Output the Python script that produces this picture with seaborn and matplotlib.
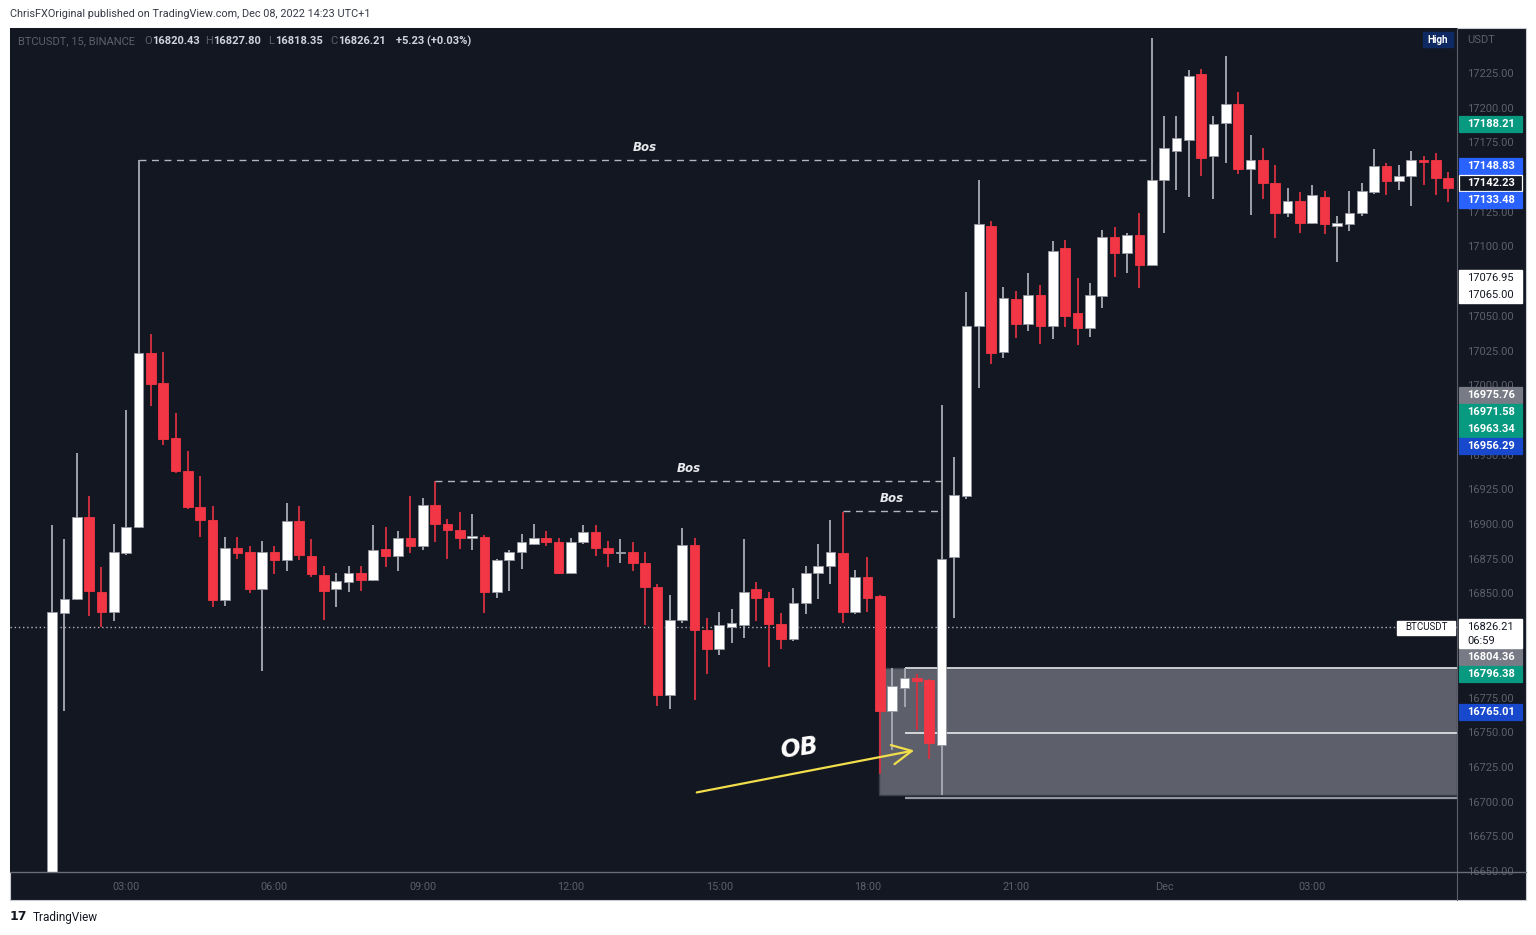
import numpy as np
import pandas as pd
import matplotlib
matplotlib.use("Agg")
import matplotlib.pyplot as plt
import matplotlib.transforms as mtransforms
from matplotlib.patches import Rectangle
from matplotlib.lines import Line2D
import seaborn as sns

# ---------------- data ----------------
opens = [16620, 16836, 16846, 16905, 16851, 16837, 16879, 16898, 17023, 17002,
         16962, 16938, 16912, 16903, 16845, 16883, 16880, 16853, 16880, 16874,
         16902, 16877, 16863, 16853, 16858, 16865, 16860, 16882, 16877, 16890,
         16884, 16914, 16900, 16896, 16890, 16891, 16851, 16874, 16880, 16886,
         16890, 16887, 16865, 16887, 16894, 16883, 16879, 16880, 16872, 16855,
         16777, 16831, 16885, 16824, 16810, 16826, 16827, 16853, 16847, 16828,
         16817, 16843, 16865, 16870, 16879, 16837, 16862, 16848, 16765, 16782,
         16789, 16788, 16741, 16876, 16920, 17043, 17115, 17024, 17062, 17044,
         17065, 17043, 17099, 17052, 17041, 17064, 17107, 17095, 17108, 17087,
         17148, 17169, 17177, 17224, 17165, 17189, 17203, 17156, 17162, 17146,
         17124, 17133, 17117, 17136, 17115, 17116, 17124, 17139, 17158, 17147,
         17151, 17162, 17162, 17149]
highs = [16899, 16889, 16951, 16920, 16869, 16900, 16982, 17162, 17037, 17024,
         16980, 16953, 16935, 16913, 16891, 16891, 16884, 16888, 16884, 16915,
         16913, 16889, 16870, 16865, 16870, 16870, 16899, 16898, 16895, 16920,
         16919, 16931, 16904, 16909, 16907, 16892, 16875, 16881, 16893, 16900,
         16895, 16890, 16890, 16899, 16899, 16888, 16889, 16887, 16880, 16857,
         16849, 16897, 16890, 16832, 16837, 16839, 16889, 16858, 16851, 16836,
         16854, 16870, 16886, 16903, 16909, 16867, 16876, 16849, 16796, 16796.38,
         16792, 16788.5, 16986, 16948, 17067, 17148, 17118, 17071, 17068, 17081,
         17072, 17104, 17105, 17077, 17074, 17112, 17114, 17110, 17124, 17250,
         17194, 17194, 17227, 17228, 17194, 17237, 17211, 17180, 17171, 17159,
         17142, 17139, 17144, 17140, 17122, 17140, 17146, 17170, 17160, 17159,
         17169, 17165, 17167, 17154]
lows = [16610, 16765, 16845, 16834, 16826, 16830, 16878, 16897, 16985, 16957,
        16937, 16911, 16891, 16840, 16841, 16875, 16850, 16794, 16864, 16866,
        16874, 16862, 16831, 16840, 16851, 16852, 16859, 16869, 16866, 16879,
        16881, 16887, 16875, 16882, 16881, 16836, 16847, 16852, 16868, 16885,
        16884, 16864, 16864, 16886, 16877, 16869, 16872, 16866, 16827, 16769,
        16767, 16829, 16773, 16792, 16806, 16814, 16818, 16830, 16797, 16810,
        16816, 16835, 16846, 16857, 16829, 16835, 16837, 16720, 16737, 16768,
        16752, 16731, 16705, 16832, 16918, 16998, 17015, 17020, 17034, 17039,
        17030, 17033, 17042, 17029, 17035, 17056, 17078, 17081, 17070, 17086,
        17110, 17141, 17136, 17151, 17134, 17160, 17152, 17123, 17134, 17106,
        17121, 17110, 17116, 17109, 17089, 17111, 17122, 17138, 17137, 17141,
        17129, 17144, 17137, 17132]
closes = [16837, 16846, 16905, 16852, 16837, 16880, 16898, 17023, 17001, 16961,
          16938, 16912, 16903, 16845, 16883, 16879, 16853, 16880, 16874, 16902,
          16878, 16864, 16852, 16859, 16865, 16860, 16881, 16877, 16890, 16884,
          16914, 16900, 16896, 16890, 16891, 16851, 16874, 16880, 16887, 16890,
          16887, 16865, 16887, 16894, 16883, 16879, 16880, 16872, 16855, 16777,
          16831, 16885, 16824, 16810, 16827, 16829, 16851, 16847, 16828, 16817,
          16843, 16865, 16870, 16880, 16837, 16862, 16847, 16765, 16783, 16789,
          16787, 16742, 16875, 16921, 17043, 17116, 17023, 17063, 17044, 17065,
          17043, 17097, 17050, 17041, 17065, 17107, 17095, 17108, 17087, 17148,
          17171, 17178, 17223, 17164, 17188, 17203, 17156, 17162, 17146, 17124,
          17133, 17117, 17137, 17116, 17117, 17124, 17140, 17158, 17147, 17151,
          17162, 17161, 17149, 17142.23]

time_tick_index = [6, 18, 30, 42, 54, 66, 78, 90, 102]
time_tick_labels = ["03:00", "06:00", "09:00", "12:00", "15:00", "18:00", "21:00", "Dec", "03:00"]
price_ticks = [16650, 16675, 16700, 16725, 16750, 16775, 16800, 16825, 16850, 16875,
               16900, 16925, 16950, 16975, 17000, 17025, 17050, 17075, 17100, 17125,
               17150, 17175, 17200, 17225]
hidden_ticks = [16800, 16825, 17075, 17150]   # fully covered by price tags

# break-of-structure levels: (start candle, end candle, level)
bos_start = [7, 31, 64]
bos_end = [89, 72, 72]
bos_level = [17162, 16931, 16909.4]

ob_start = 66.95
ob_top = 16796.38
ob_bottom = 16703.0
last_price = 16826.21

# right-axis tags: text, displayed price, background
tag_text = ["17188.21", "17148.83", "17142.23", "17133.48", "16975.76", "16971.58",
            "16963.34", "16956.29", "16804.36", "16796.38", "16765.01"]
tag_pos = [17188.3, 17158.0, 17145.8, 17133.5, 16993.0, 16980.8,
           16968.5, 16956.3, 16804.3, 16792.0, 16764.6]
tag_bg = ["#089981", "#2962ff", "#131722", "#2962ff", "#787b86", "#089981",
          "#089981", "#1848cc", "#787b86", "#089981", "#1848cc"]

df = pd.DataFrame({"open": opens, "high": highs, "low": lows, "close": closes})
df["idx"] = np.arange(len(df))
df["up"] = df["close"] >= df["open"]

# ---------------- style ----------------
BG = "#131722"
sns.set_theme(style="dark", rc={"axes.facecolor": BG, "figure.facecolor": "white"})
plt.rcParams["font.family"] = ["Roboto", "DejaVu Sans"]

W, H = 1536, 935
fig = plt.figure(figsize=(W / 100, H / 100), dpi=100, facecolor="white")


def fx(px):
    return px / W


def fy(py):
    return 1 - py / H


# dark chart panel (behind everything)
fig.patches.append(Rectangle((fx(10), fy(900)), fx(1526) - fx(10), fy(28) - fy(900),
                             transform=fig.transFigure, facecolor=BG,
                             edgecolor="#c8cbd2", lw=0.8, zorder=-5))

ax = fig.add_axes([fx(10), fy(872), fx(1457) - fx(10), fy(28) - fy(872)])
ax.set_zorder(1)
ax.set_facecolor(BG)
ax.grid(False)
for s in ax.spines.values():
    s.set_visible(False)

xmin, xmax = -3.40, 113.71
ax.set_xlim(xmin, xmax)
ax.set_ylim(16649.35, 17257.4)

# separators
fig.add_artist(Line2D([fx(1457), fx(1457)], [fy(28), fy(900)], color="#5d606b", lw=0.8, zorder=2))
fig.add_artist(Line2D([fx(10), fx(1526)], [fy(872), fy(872)], color="#6a6d78", lw=1.0, zorder=2))

# ---------------- OB zone ----------------
ax.add_patch(Rectangle((ob_start, ob_bottom + 1.5), xmax - ob_start, ob_top - ob_bottom - 1.5,
                       facecolor="#5d606b", edgecolor="#3b3f4b", lw=1.0, zorder=1))
ax.hlines([ob_top, (ob_top + ob_bottom) / 2], 69, xmax, color="#e8e9ec", lw=1.2, zorder=1.2)
ax.hlines([ob_bottom], 69, xmax, color="#9598a1", lw=1.6, zorder=1.2)

# last price dotted line
ax.axhline(last_price, color="#b2b5be", lw=1.0, linestyle=(0, (1, 2)), zorder=1.5)

# ---------------- candles ----------------
up_col, dn_col = "#ffffff", "#f23645"
for _, r in df.iterrows():
    wick_col = "#a9acb5" if r["up"] else "#d9303f"
    ax.vlines(r["idx"], r["low"], r["high"], color=wick_col, lw=1.3, zorder=2)
    lo = min(r["open"], r["close"])
    h = max(abs(r["close"] - r["open"]), 1.2)
    ax.bar(r["idx"], h, bottom=lo, width=0.78,
           color=up_col if r["up"] else dn_col,
           edgecolor="#9598a1" if r["up"] else dn_col, lw=0.6, zorder=3)

# ---------------- BOS lines ----------------
for s, e, lv in zip(bos_start, bos_end, bos_level):
    ax.hlines(lv, s, e, color="#b2b5be", lw=1.0, linestyles=(0, (5, 4)), zorder=2.5)
    ax.text((s + e) / 2, lv + 4.5, "Bos", color="#e8e9ec", fontsize=8.5,
            fontweight="bold", fontstyle="italic", family="DejaVu Sans",
            ha="center", va="bottom", zorder=4)

# OB annotation
ax.annotate("", xy=(70.0, 16737.3), xytext=(51.96, 16706.3),
            arrowprops=dict(arrowstyle="->,head_length=0.7,head_width=0.35",
                            color="#f2dd4c", lw=1.6, mutation_scale=20), zorder=5)
ax.text(60.5, 16738.7, "OB", color="white", fontsize=17, fontstyle="italic",
        fontweight="bold", family="DejaVu Sans", ha="center", va="center",
        rotation=8, zorder=5)

# ---------------- axes ticks ----------------
ax.yaxis.tick_right()
ax.set_yticks(price_ticks)
ax.set_yticklabels(["" if v in hidden_ticks else f"{v:.2f}" for v in price_ticks])
ax.tick_params(axis="y", length=0, pad=7.2, labelsize=8, labelcolor="#5d606b")
ax.set_xticks(time_tick_index)
ax.set_xticklabels(time_tick_labels)
ax.tick_params(axis="x", length=0, pad=7, labelsize=7.8, labelcolor="#5d606b")

# ---------------- right-axis tags ----------------
trans = mtransforms.blended_transform_factory(ax.transAxes, ax.transData)
tx0, tw = (1459 - 10) / 1447, 63 / 1447
th = 16.5 / 1.388
for t, p, bg in zip(tag_text, tag_pos, tag_bg):
    ec = "white" if bg == BG else bg
    ax.add_patch(Rectangle((tx0, p - th / 2), tw, th, transform=trans, facecolor=bg,
                           edgecolor=ec, lw=0.9, clip_on=False, zorder=6))
    ax.text(tx0 + 0.0055, p, t, transform=trans, color="white", fontsize=8,
            fontweight="bold", ha="left", va="center", clip_on=False, zorder=7)

# white double tag
ax.add_patch(Rectangle((tx0, 17059.3), tw, 17083.1 - 17059.3, transform=trans,
                       facecolor="white", edgecolor="white", clip_on=False, zorder=6))
for t, p in zip(["17076.95", "17065.00"], [17077.3, 17065.1]):
    ax.text(tx0 + 0.0055, p, t, transform=trans, color="#131722", fontsize=8,
            ha="left", va="center", clip_on=False, zorder=7)

# last price tag
ax.add_patch(Rectangle((tx0, 16810.7), tw, 16831.6 - 16810.7, transform=trans,
                       facecolor="white", edgecolor="white", clip_on=False, zorder=6))
ax.text(tx0 + 0.0055, 16826.2, f"{last_price:.2f}", transform=trans, color="#131722",
        fontsize=8, ha="left", va="center", clip_on=False, zorder=7)
ax.text(tx0 + 0.0055, 16816.0, "06:59", transform=trans, color="#131722",
        fontsize=8, ha="left", va="center", clip_on=False, zorder=7)
bx0, bx1 = (1397 - 10) / 1447, (1455 - 10) / 1447
ax.add_patch(Rectangle((bx0, 16820.4), bx1 - bx0, 10.1, transform=trans,
                       facecolor="white", edgecolor="white", clip_on=False, zorder=6))
ax.text((bx0 + bx1) / 2, 16825.5, "BTCUSDT", transform=trans, color="#131722",
        fontsize=7, ha="center", va="center", clip_on=False, zorder=7)

# High tag
hx0, hx1 = (1423 - 10) / 1447, (1453 - 10) / 1447
ax.add_patch(Rectangle((hx0, 17243.7), hx1 - hx0, 10.8, transform=trans,
                       facecolor="#0f2a62", edgecolor="#0f2a62", clip_on=False, zorder=6))
ax.text((hx0 + hx1) / 2, 17249.1, "High", transform=trans, color="white", fontsize=7,
        fontweight="bold", ha="center", va="center", clip_on=False, zorder=7)

# ---------------- header texts ----------------
fig.text(fx(1467), fy(40), "USDT", color="#5d606b", fontsize=8, va="center", ha="left", zorder=3)
fig.text(fx(10), fy(14), "ChrisFXOriginal published on TradingView.com, Dec 08, 2022 14:23 UTC+1",
         color="#363a45", fontsize=7.8, va="center", ha="left")

hdr = [(18, "BTCUSDT, 15, BINANCE", "#5d606b", "normal"),
       (144, "O", "#5d606b", "normal"), (152, "16820.43", "#d1d4dc", "bold"),
       (205, "H", "#5d606b", "normal"), (213, "16827.80", "#d1d4dc", "bold"),
       (268, "L", "#5d606b", "normal"), (275, "16818.35", "#d1d4dc", "bold"),
       (330, "C", "#5d606b", "normal"), (338, "16826.21", "#d1d4dc", "bold"),
       (396, "+5.23 (+0.03%)", "#d1d4dc", "bold")]
for px, t, c, w in hdr:
    fig.text(fx(px), fy(41), t, color=c, fontsize=8, fontweight=w, va="center", ha="left", zorder=3)

fig.text(fx(10), fy(917), "17", color="#131722", fontsize=9, fontweight="bold",
         family="DejaVu Sans", va="center", ha="left")
fig.text(fx(33), fy(917), "TradingView", color="#131722", fontsize=8.5, va="center", ha="left")

fig.savefig("out.png", dpi=100, facecolor="white")
